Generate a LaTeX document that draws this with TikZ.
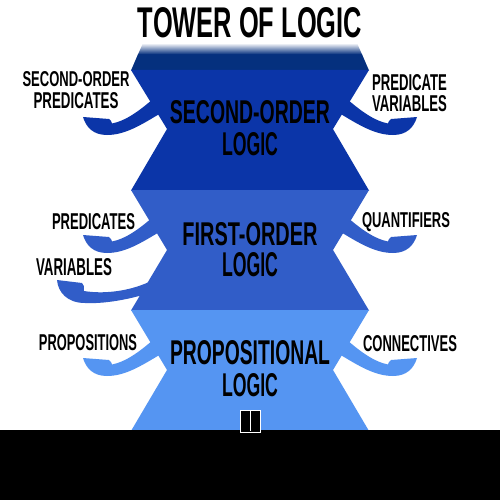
\documentclass[tikz,border=0pt]{standalone}
\usepackage{fontspec}
\usepackage{graphicx}
\setmainfont{Liberation Sans}
\definecolor{bandc}{HTML}{05307E}
\definecolor{soc}{HTML}{0B35A8}
\definecolor{foc}{HTML}{315DC8}
\definecolor{plc}{HTML}{5595F2}
\newcommand\fitt[3]{\resizebox{#1pt}{#2pt}{\bfseries #3}}
\tikzset{
  lbl/.style={inner sep=0pt, anchor=base, text=black},
  lbltwo/.style={inner sep=0pt, anchor=north, align=center, text=black},
  swoosh/.pic={\fill[pic actions] (0,0) -- (26,2) .. controls (28,3) and (28.5,5) .. (29,6.5)
     .. controls (42,4) and (55,-5) .. (70,-18) -- (78,-4)
     .. controls (58,8) and (42,18) .. (24,18) .. controls (10,18) and (3,10) .. cycle;},
  longswoosh/.pic={\fill[pic actions] (0,0) -- (25,3) .. controls (27,4) and (27,7) .. (27,11)
     .. controls (45,14) and (70,12) .. (92,2) -- (95,12)
     .. controls (72,20) and (45,24) .. (28,23) .. controls (10,23) and (1,12) .. cycle;},
}
\begin{document}
\begin{tikzpicture}[x=1pt,y=-1pt]
\useasboundingbox (0,0) rectangle (500,500);
\fill[white] (0,0) rectangle (500,500);
% swooshes
\pic[fill=soc] at (83,117) {swoosh};
\pic[fill=soc,xscale=-1] at (417,117) {swoosh};
\pic[fill=foc] at (83,235) {swoosh};
\pic[fill=foc,xscale=-1] at (417,235) {swoosh};
\pic[fill=foc] at (57,280) {longswoosh};
\pic[fill=plc] at (83,358) {swoosh};
\pic[fill=plc,xscale=-1] at (417,358) {swoosh};
% top band
\fill[bandc] (138.1,54) -- (361.9,54) -- (369,70.5) -- (131,70.5) -- cycle;
\shade[top color=white, bottom color=bandc] (143,43) -- (357,43) -- (361.9,54.3) -- (138.1,54.3) -- cycle;
% sections
\fill[soc] (131,70) -- (369,70) -- (333,129) -- (369,190.5) -- (131,190.5) -- (167,129) -- cycle;
\fill[foc] (131,190) -- (369,190) -- (333,250) -- (369,310.5) -- (131,310.5) -- (167,250) -- cycle;
\fill[plc] (131,310) -- (369,310) -- (333,370) -- (369,431) -- (131,431) -- (167,370) -- cycle;
% ground and door
\fill[black] (0,430) rectangle (500,500);
\draw[white, line width=1pt, fill=black] (240,410) rectangle (260,432);
\draw[white, line width=1pt] (250,410.5) -- (250,431);
% labels
\node[lbl] (title) at (250,38) {\fitt{224}{30}{TOWER OF LOGIC}};
\node[lbltwo] (sop) at (76,71.5) {\fitt{107}{15}{SECOND-ORDER}\\[4.5pt]\fitt{85}{16}{PREDICATES}};
\node[lbltwo] (pv) at (409.5,74) {\fitt{75}{16}{PREDICATE}\\[4.5pt]\fitt{75}{16}{VARIABLES}};
\node[lbltwo] (sol) at (250,100) {\fitt{160}{23}{SECOND-ORDER}\\[8pt]\fitt{56}{23}{LOGIC}};
\node[lbl] (fop) at (93.5,229) {\fitt{83}{16}{PREDICATES}};
\node[lbl] (fov) at (74,275) {\fitt{76}{17}{VARIABLES}};
\node[lbl] (foq) at (406,227) {\fitt{88}{15}{QUANTIFIERS}};
\node[lbltwo] (fol) at (250,222) {\fitt{135}{23}{FIRST-ORDER}\\[6pt]\fitt{56}{24}{LOGIC}};
\node[lbl] (plp) at (88,350) {\fitt{98}{16}{PROPOSITIONS}};
\node[lbl] (plc) at (410,351) {\fitt{94}{16}{CONNECTIVES}};
\node[lbltwo] (pll) at (250,340) {\fitt{160}{24}{PROPOSITIONAL}\\[8pt]\fitt{56}{23}{LOGIC}};
\end{tikzpicture}
\end{document}
